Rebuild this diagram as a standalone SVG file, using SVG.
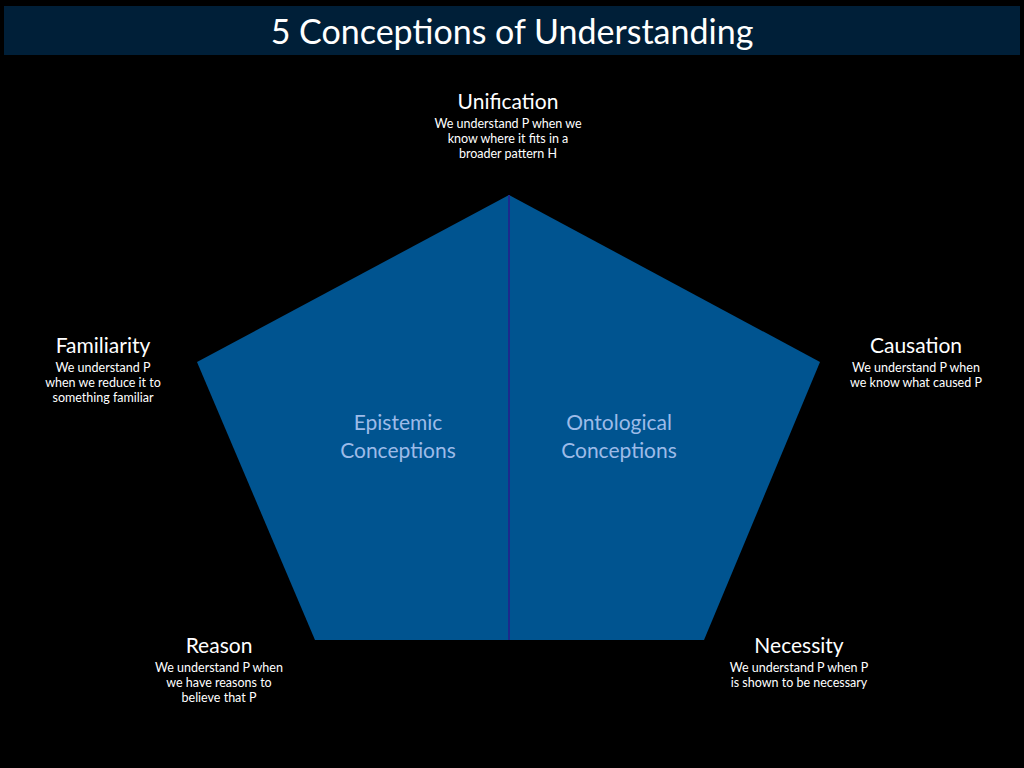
<svg xmlns="http://www.w3.org/2000/svg" width="1024" height="768" viewBox="0 0 1024 768">
<style>
text{font-family:Lato,"Liberation Sans",sans-serif;text-anchor:middle;fill:#fff}
.h{font-size:21px}
.d{font-size:12.5px}
.c{font-size:21px;fill:#9dbbe8}
</style>
<rect width="1024" height="768" fill="#000"/>
<rect x="4" y="6" width="1016" height="49" fill="#001f38"/>
<text x="512" y="44" font-size="34">5 Conceptions of Understanding</text>
<g id="pentagon">
<polygon points="509,195 820,362 704,640 315,640 197,362" fill="#005490"/>
<text class="c" x="398" y="430">Epistemic</text>
<text class="c" x="398" y="458">Conceptions</text>
<text class="c" x="619" y="430">Ontological</text>
<text class="c" x="619" y="458">Conceptions</text>
</g>
<g id="connectors"><line x1="509" y1="195" x2="509" y2="640" stroke="#1c2a8c" stroke-width="2"/></g>
<g id="unification"><text class="h" x="508" y="109">Unification</text>
<text class="d" x="508" y="128">We understand P when we</text><text class="d" x="508" y="143">know where it fits in a</text><text class="d" x="508" y="158">broader pattern H</text></g>
<g id="familiarity"><text class="h" x="103" y="353">Familiarity</text>
<text class="d" x="103" y="372">We understand P</text><text class="d" x="103" y="387">when we reduce it to</text><text class="d" x="103" y="402">something familiar</text></g>
<g id="causation"><text class="h" x="916" y="353">Causation</text>
<text class="d" x="916" y="372">We understand P when</text><text class="d" x="916" y="387">we know what caused P</text></g>
<g id="reason"><text class="h" x="219" y="653">Reason</text>
<text class="d" x="219" y="672">We understand P when</text><text class="d" x="219" y="687">we have reasons to</text><text class="d" x="219" y="702">believe that P</text></g>
<g id="necessity"><text class="h" x="799" y="653">Necessity</text>
<text class="d" x="799" y="672">We understand P when P</text><text class="d" x="799" y="687">is shown to be necessary</text></g>
</svg>
